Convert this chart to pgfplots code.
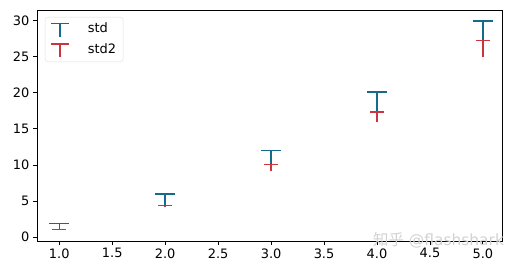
\documentclass[border=0pt]{standalone}
\usepackage{fontspec}
\setmainfont{DejaVu Sans}
\newfontfamily\cjk{Noto Sans CJK SC}
\usepackage{pgfplots}
\pgfplotsset{compat=1.18}
\definecolor{cteal}{RGB}{20,108,138}
\definecolor{cred}{RGB}{206,50,62}
\begin{document}
\begin{tikzpicture}[x=1bp,y=1bp]
\begin{axis}[
  name=ax,
  clip=false,
  scale only axis,
  width=465bp, height=231bp,
  xmin=0.79, xmax=5.18, ymin=-0.55, ymax=31.5,
  xtick={1,1.5,2,2.5,3,3.5,4,4.5,5},
  ytick={0,5,10,15,20,25,30},
  xticklabel style={/pgf/number format/.cd, fixed, fixed zerofill, precision=1},
  /pgf/number format/assume math mode=true,
  tick label style={font=\fontsize{13}{15}\selectfont},
  tick align=outside, xtick pos=left, ytick pos=left,
  major tick length=4bp,
  every tick/.style={black, line width=0.9bp},
  axis line style={line width=0.9bp},
  legend style={at={(0.017,0.97)}, anchor=north west, draw=gray!25, rounded corners=3bp,
    font=\fontsize{13}{15}\selectfont, row sep=4bp, inner xsep=5bp, inner ysep=4bp},
  legend cell align=left,
]
\addplot[cteal, draw=none, mark=none,
  legend image code/.code={\draw[cteal, line width=1.4bp] (10bp,-8bp) -- (10bp,5bp) (1bp,5bp) -- (19bp,5bp); \path (36bp,0bp);},
  error bars/.cd, y dir=plus, y explicit,
  error bar style={line width=1.4bp, cteal},
  error mark options={rotate=90, mark size=10bp, line width=1.4bp, cteal}
] table[x=x, y=y, y error=e] {
x y e
1 1.05 0.85
2 4.30 1.67
3 10.0 2.0
4 17.3 2.8
5 27.2 2.8
};
\addlegendentry{std}
\addplot[cred, draw=none, mark=none,
  legend image code/.code={\draw[cred, line width=1.4bp] (10bp,-8bp) -- (10bp,5bp) (1bp,5bp) -- (19bp,5bp); \path (36bp,0bp);},
  error bars/.cd, y dir=plus, y explicit,
  error bar style={line width=1.4bp, cred},
  error mark options={rotate=90, mark size=7bp, line width=1.4bp, cred}
] table[x=x, y=y, y error=e] {
x y e
1 0.95 0.12
2 4.15 0.20
3 9.10 0.95
4 16.0 1.35
5 25.0 2.30
};
\addlegendentry{std2}
\node[anchor=west, text=gray!35, font=\fontsize{15.5}{18}\selectfont] at (axis cs:3.93,-0.4) {{\cjk 知乎} @flashshark};
\end{axis}
\path (ax.south west) ++(-37bp,-33bp);
\path (ax.north east) ++(10bp,10bp);
\end{tikzpicture}
\end{document}
